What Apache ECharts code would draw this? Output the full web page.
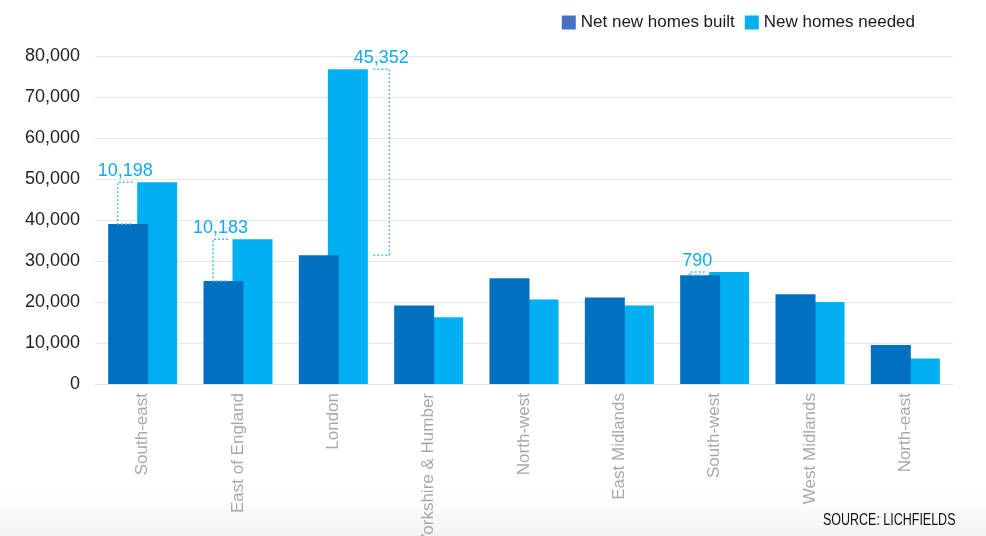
<!DOCTYPE html>
<html>
<head>
<meta charset="utf-8">
<script src="https://cdn.jsdelivr.net/npm/echarts@6/dist/echarts.min.js"></script>
<style>
html,body{margin:0;padding:0;background:#fff;}
#chart{width:986px;height:536px;}
</style>
</head>
<body>
<div id="chart"></div>
<script>
const categories = ['South-east','East of England','London','Yorkshire & Humber','North-west','East Midlands','South-west','West Midlands','North-east'];
const netBuilt = [39000, 25100, 31400, 19150, 25800, 21100, 26550, 21900, 9500];
const homesNeeded = [49198, 35283, 76752, 16300, 20600, 19150, 27340, 20000, 6200];
const seriesNames = ['Net new homes built', 'New homes needed'];
const yTicks = [0, 10000, 20000, 30000, 40000, 50000, 60000, 70000, 80000];
// annotated shortfalls: category and side of the bracket
const gapCategories = ['South-east', 'East of England', 'London', 'South-west'];
const gapSides = ['left', 'left', 'right', 'left'];
const sourceText = 'SOURCE: LICHFIELDS';

const DARK = '#0070c0', LIGHT = '#00b0f0', ANN = '#12a9ef';
const FONT = "'Liberation Sans', Arial, sans-serif";

const gapData = gapCategories.map((c, i) => {
  const k = categories.indexOf(c);
  return { value: [k, netBuilt[k], homesNeeded[k], gapSides[i] === 'left' ? -1 : 1],
           name: (homesNeeded[k] - netBuilt[k]).toLocaleString('en-US') };
});

const chart = echarts.init(document.getElementById('chart'), null, {renderer: 'canvas'});
chart.setOption({
  animation: false,
  backgroundColor: '#fff',
  textStyle: {fontFamily: FONT},
  grid: {left: 95, right: 33, top: 56, bottom: 152, containLabel: false, outerBoundsMode: 'none'},
  legend: {
    top: 9, right: 66, itemWidth: 14, itemHeight: 14, itemGap: 10,
    icon: 'rect',
    textStyle: {fontSize: 17, color: '#1a1a1a', fontFamily: FONT},
    data: [
      {name: seriesNames[0], itemStyle: {color: '#4472c4'}},
      {name: seriesNames[1], itemStyle: {color: LIGHT}}
    ]
  },
  xAxis: {
    type: 'category', data: categories,
    axisTick: {show: false},
    axisLine: {lineStyle: {color: '#e2e2e2', width: 1}},
    axisLabel: {rotate: 90, color: '#a8a8a8', fontSize: 17, margin: 9, interval: 0}
  },
  yAxis: {
    type: 'value', min: yTicks[0], max: yTicks[yTicks.length - 1], interval: yTicks[1] - yTicks[0],
    axisLine: {show: false}, axisTick: {show: false},
    axisLabel: {fontSize: 18, color: '#222', margin: 15,
      formatter: v => v.toLocaleString('en-US')},
    splitLine: {lineStyle: {color: '#e8e8e8', width: 1}}
  },
  series: [
    {name: seriesNames[0], type: 'bar', data: netBuilt, barWidth: 40, barGap: '-27.5%', z: 3,
     itemStyle: {color: DARK}},
    {name: seriesNames[1], type: 'bar', data: homesNeeded, barWidth: 40, z: 2,
     itemStyle: {color: LIGHT}},
    {type: 'custom', z: 5, silent: true, data: gapData,
     encode: {x: 0, y: [1, 2]},
     renderItem: function (params, api) {
       const k = api.value(0), lo = api.value(1), hi = api.value(2), side = api.value(3);
       const pLo = api.coord([k, lo]), pHi = api.coord([k, hi]);
       const cx = pLo[0];
       let outer, inner;
       if (side < 0) { outer = cx - 25; inner = cx - 10; }
       else { outer = cx + 56; inner = cx + 40; }
       const mid = (outer + inner) / 2;
       const txt = gapData[params.dataIndex].name;
       return {
         type: 'group',
         children: [
           {type: 'polyline',
            shape: {points: [[inner, pHi[1]], [outer, pHi[1]], [outer, pLo[1]], [inner, pLo[1]]]},
            style: {stroke: '#4dbdf0', lineWidth: 1.5, lineDash: [2, 2], fill: null}},
           {type: 'text',
            style: {text: txt, x: mid, y: pHi[1] - 11, align: 'center', verticalAlign: 'middle',
                    fill: ANN, fontSize: 18, fontFamily: FONT}}
         ]
       };
     }}
  ],
  graphic: [
    {type: 'rect', left: 0, top: 492, z: -10, silent: true,
     shape: {width: 986, height: 44},
     style: {fill: new echarts.graphic.LinearGradient(0, 0, 0, 1, [{offset: 0, color: '#ffffff'}, {offset: 1, color: '#f3f3f3'}])}},
    {type: 'text', x: 823, y: 521, z: 10, scaleX: 0.78, originX: 0,
     style: {text: sourceText, fill: '#111', fontSize: 16, verticalAlign: 'middle', fontFamily: FONT}}
  ]
});
</script>
</body>
</html>
